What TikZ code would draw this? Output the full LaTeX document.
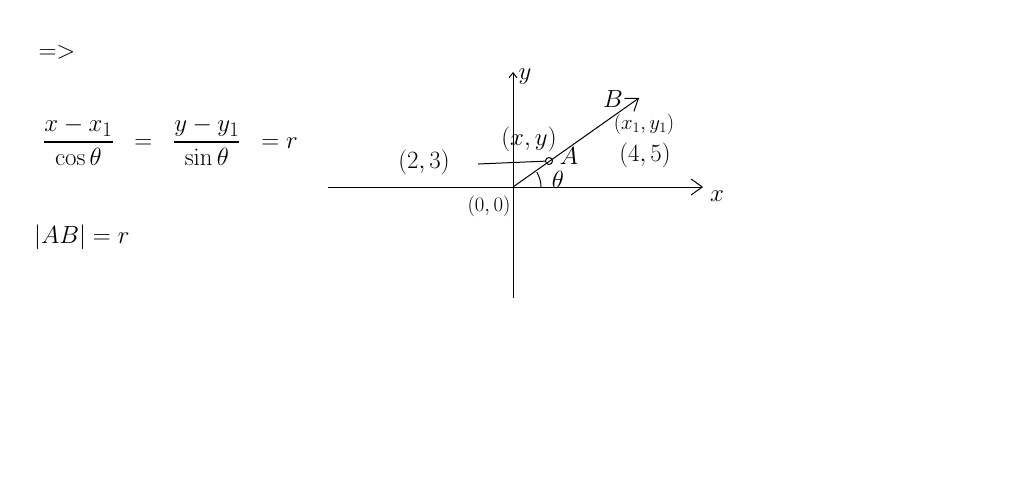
\documentclass[tikz,border=0pt]{standalone}
\usepackage{amsmath, amssymb}
\usepackage{tikz}
\usetikzlibrary{arrows.meta}

\begin{document}
\begin{tikzpicture}[x=1pt,y=1pt,yscale=-1,xscale=1]
    \useasboundingbox (0,0) rectangle (1024,490);
    \tikzset{lbl/.style={inner sep=1pt,font=\fontsize{30}{36}\selectfont},
             mid/.style={inner sep=1pt,font=\fontsize{24}{29}\selectfont},
             small/.style={inner sep=1pt,font=\fontsize{21}{25}\selectfont},
             pen/.style={line width=1pt},
             barb/.style={pen,-{Straight Barb[length=11pt,width=16pt]}}}

    % left hand working
    \node[lbl] (impl) at (57,52) {$\mathord{=}\mathord{>}$};
    \node[lbl,anchor=west] (eqn) at (42,141) {$\dfrac{x-x_1}{\cos\theta}\;\;=\;\;\dfrac{y-y_1}{\sin\theta}\;\;=r$};
    \node[lbl,anchor=west] (ab) at (33,237) {$|AB| = r$};

    % axes
    \coordinate (O) at (513,187);
    \coordinate (xl) at (328,187);
    \coordinate (xr) at (703,187);
    \coordinate (yb) at (513,298);
    \coordinate (yt) at (513,72);
    \draw[barb] (xl) -- (xr);
    \draw[pen,-{Straight Barb[length=5pt,width=8pt]}] (yb) -- (yt);
    \node[mid] (xlab) at (717,196) {$x$};
    \node[mid] (ylab) at (525,77) {$y$};
    \node[small] (orig) at (489,206) {$(0,0)$};

    % line through A and B
    \coordinate (Btip) at (639,98);
    \draw[barb] (O) -- (Btip);
    \node[circle,draw,pen,inner sep=0pt,minimum size=7pt] (A) at (549,161) {};
    \node[mid] (alab) at (569,156) {$A$};
    \node[mid] (blab) at (613,99) {$B$};
    \node[small] (b1) at (644,124) {$(x_1,y_1)$};
    \node[lbl] (b2) at (645,155) {$(4,5)$};
    \node[lbl] (axy) at (529,139) {$(x,y)$};

    % point (2,3)
    \node[font=\fontsize{36}{43}\selectfont,inner sep=1pt] (p23) at (424,162) {$(2,3)$};
    \coordinate (c23) at (478,164);
    \draw[pen] (A) -- (c23);

    % angle
    \draw[pen] (O) ++(-32:28) arc[start angle=-32,end angle=2,radius=28];
    \node[mid] (th) at (558,180) {$\theta$};

\end{tikzpicture}
\end{document}
